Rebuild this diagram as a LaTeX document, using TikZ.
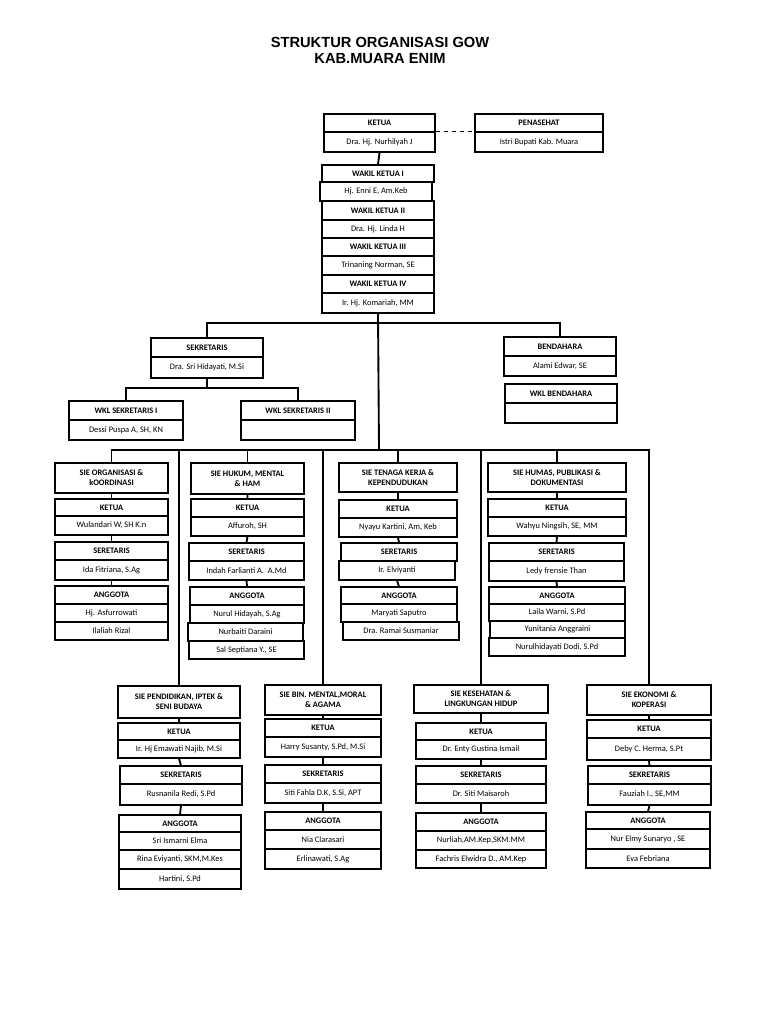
\documentclass[tikz,border=0pt]{standalone}
\usepackage{fontspec}
\setmainfont{Carlito}
\newfontfamily\titlefont{Liberation Sans}
\newcommand\cell[7]{\node[cellbox,#6,minimum width={(#4-#2)*0.75pt},minimum height={(#5-#3)*0.75pt}] (#1) at ({(#2+#4)/2},{(#3+#5)/2}) {#7};}
\tikzset{cellbox/.style={draw,line width=0.8pt,inner sep=0pt,align=center,font=\fontsize{6.3}{7.4}\selectfont},
 hd/.style={font=\fontsize{6.3}{7.4}\selectfont\bfseries},
 nm/.style={},
 conn/.style={line width=1.4pt}}
\begin{document}
\begin{tikzpicture}[x=0.75pt,y=-0.75pt]
\useasboundingbox (0,0) rectangle (768,1024);
\fill[white] (0,0) rectangle (768,1024);
\node[font=\titlefont\fontsize{11}{12}\selectfont\bfseries,align=center] (title) at (380,50) {STRUKTUR ORGANISASI GOW\\KAB.MUARA ENIM};
% top
\cell{k}{324}{114}{435}{132}{hd}{KETUA}
\cell{kn}{324}{132}{435}{152}{nm}{Dra. Hj. Nurhilyah J}
\cell{p}{475}{114}{603}{132}{hd}{PENASEHAT}
\cell{pn}{475}{132}{603}{152}{nm}{Istri Bupati Kab. Muara}
\draw[conn,dashed] (kn.north east) -- (pn.north west);
\cell{w1}{322}{165}{434}{182}{hd}{WAKIL KETUA I}
\cell{w1n}{320}{182}{432}{201}{nm}{Hj. Enni E, Am.Keb}
\cell{w2}{322}{201}{434}{220}{hd}{WAKIL KETUA II}
\cell{w2n}{322}{220}{434}{238}{nm}{Dra. Hj. Linda H}
\cell{w3}{322}{238}{434}{256}{hd}{WAKIL KETUA III}
\cell{w3n}{322}{256}{434}{275}{nm}{Trinaning Norman, SE}
\cell{w4}{322}{275}{434}{293}{hd}{WAKIL KETUA IV}
\cell{w4n}{322}{293}{434}{313}{nm}{Ir. Hj. Komariah, MM}
\draw[conn] (kn.south) -- (w1.north);
\coordinate (t1) at (379,323);
\coordinate (t2) at (379,450);
\draw[conn] (w4n.south) -- (t2);
\cell{s}{151}{338}{263}{357}{hd}{SEKRETARIS}
\cell{sn}{151}{357}{263}{378}{nm}{Dra. Sri Hidayati, M.Si}
\cell{b}{504}{337}{616}{356}{hd}{BENDAHARA}
\cell{bn}{504}{356}{616}{376}{nm}{Alami Edwar, SE}
\cell{wb}{505}{384}{617}{403}{hd}{WKL BENDAHARA}
\cell{wbn}{505}{403}{617}{423}{nm}{}
\draw[conn] (s.north) |- (t1) -| (b.north);
\coordinate (s1) at (207,388);
\cell{ws1}{69}{401}{183}{420}{hd}{WKL SEKRETARIS I}
\cell{ws1n}{69}{420}{183}{440}{nm}{Dessi Puspa A, SH, KN}
\cell{ws2}{241}{401}{355}{420}{hd}{WKL SEKRETARIS II}
\cell{ws2n}{241}{420}{355}{440}{nm}{}
\draw[conn] (sn.south) -- (s1);
\draw[conn] (ws1.north) |- (s1) -| (ws2.north);
% row 1
\cell{oh}{55}{463}{168}{493}{hd}{SIE ORGANISASI \&\\kOORDINASI}
\cell{ok}{55}{499}{168}{516}{hd}{KETUA}
\cell{okn}{55}{516}{168}{535}{nm}{Wulandari W, SH K.n}
\cell{os}{55}{542}{168}{560}{hd}{SERETARIS}
\cell{osn}{55}{560}{168}{580}{nm}{Ida Fitriana, S.Ag}
\cell{oa}{55}{586}{168}{604}{hd}{ANGGOTA}
\cell{oa1}{55}{604}{168}{622}{nm}{Hj. Asfurrowati}
\cell{oa2}{55}{622}{168}{640}{nm}{Ilaliah Rizal}
\draw[conn] (oh.south)--(ok.north) (okn.south)--(os.north) (osn.south)--(oa.north);
\cell{hh}{191}{463}{304}{494}{hd}{SIE HUKUM, MENTAL\\\& HAM}
\cell{hk}{191}{499}{304}{517}{hd}{KETUA}
\cell{hkn}{191}{517}{304}{536}{nm}{Affuroh, SH}
\cell{hs}{189}{543}{304}{561}{hd}{SERETARIS}
\cell{hsn}{189}{561}{304}{580}{nm}{Indah Farlianti A.\ \ A.Md}
\cell{ha}{190}{587}{304}{605}{hd}{ANGGOTA}
\cell{ha1}{190}{605}{304}{623}{nm}{Nurul Hidayah, S.Ag}
\cell{ha2}{188}{623}{303}{641}{nm}{Nurbaiti Daraini}
\cell{ha3}{189}{641}{304}{659}{nm}{Sal Septiana Y., SE}
\draw[conn] (hh.south)--(hk.north) (hkn.south)--(hs.north) (hsn.south)--(ha.north);
\cell{th}{339}{463}{457}{492}{hd}{SIE TENAGA KERJA \&\\KEPENDUDUKAN}
\cell{tk}{339}{500}{457}{518}{hd}{KETUA}
\cell{tkn}{339}{518}{457}{537}{nm}{Nyayu Kartini, Am, Keb}
\cell{ts}{341}{543}{457}{561}{hd}{SERETARIS}
\cell{tsn}{339}{561}{455}{580}{nm}{Ir. Elviyanti}
\cell{ta}{341}{587}{457}{604}{hd}{ANGGOTA}
\cell{ta1}{341}{604}{457}{622}{nm}{Maryati Saputro}
\cell{ta2}{343}{622}{459}{640}{nm}{Dra. Ramai Susmaniar}
\draw[conn] (th.south)--(tk.north) (tkn.south)--(ts.north) (tsn.south)--(ta.north);
\cell{uh}{488}{463}{626}{492}{hd}{SIE HUMAS, PUBLIKASI \&\\DOKUMENTASI}
\cell{uk}{488}{499}{626}{517}{hd}{KETUA}
\cell{ukn}{488}{517}{626}{536}{nm}{Wahyu Ningsih, SE, MM}
\cell{us}{489}{543}{624}{561}{hd}{SERETARIS}
\cell{usn}{489}{561}{624}{581}{nm}{Ledy frensie Than}
\cell{ua}{489}{587}{625}{604}{hd}{ANGGOTA}
\cell{ua1}{489}{604}{625}{621}{nm}{Laila Warni, S.Pd}
\cell{ua2}{490}{621}{625}{638}{nm}{Yunitania Anggraini}
\cell{ua3}{489}{638}{625}{656}{nm}{Nurulhidayati Dodi, S.Pd}
\draw[conn] (uh.south)--(uk.north) (ukn.south)--(us.north) (usn.south)--(ua.north);
% row 2
\cell{ph}{118}{686}{240}{718}{hd}{SIE PENDIDIKAN, IPTEK \&\\SENI BUDAYA}
\cell{pk}{118}{723}{240}{740}{hd}{KETUA}
\cell{pkn}{118}{740}{240}{758}{nm}{Ir. Hj Emawati Najib, M.Si}
\cell{ps}{120}{766}{242}{784}{hd}{SEKRETARIS}
\cell{psn}{120}{784}{242}{805}{nm}{Rusnanila Redi, S.Pd}
\cell{pa}{119}{815}{241}{832}{hd}{ANGGOTA}
\cell{pa1}{119}{832}{241}{850}{nm}{Sri Ismarni Elma}
\cell{pa2}{119}{850}{241}{869}{nm}{Rina Eviyanti, SKM,M.Kes}
\cell{pa3}{119}{869}{241}{889}{nm}{Hartini, S.Pd}
\draw[conn] (ph.south)--(pk.north) (pkn.south)--(ps.north) (psn.south)--(pa.north);
\cell{bh}{265}{685}{381}{715}{hd}{SIE BIN. MENTAL,MORAL\\\& AGAMA}
\cell{bk}{265}{719}{381}{737}{hd}{KETUA}
\cell{bkn}{265}{737}{381}{757}{nm}{Harry Susanty, S.Pd, M.Si}
\cell{bs}{265}{765}{381}{783}{hd}{SEKRETARIS}
\cell{bsn}{265}{783}{381}{803}{nm}{Siti Fahla D.K, S.Si, APT}
\cell{ba}{265}{812}{381}{830}{hd}{ANGGOTA}
\cell{ba1}{265}{830}{381}{849}{nm}{Nia Clarasari}
\cell{ba2}{265}{849}{381}{869}{nm}{Erlinawati, S.Ag}
\draw[conn] (bh.south)--(bk.north) (bkn.south)--(bs.north) (bsn.south)--(ba.north);
\cell{eh}{414}{685}{548}{713}{hd}{SIE KESEHATAN \&\\LINGKUNGAN HIDUP}
\cell{ek}{416}{723}{546}{740}{hd}{KETUA}
\cell{ekn}{416}{740}{546}{759}{nm}{Dr. Enty Gustina Ismail}
\cell{es}{416}{766}{546}{784}{hd}{SEKRETARIS}
\cell{esn}{416}{784}{546}{803}{nm}{Dr. Siti Maisaroh}
\cell{ea}{416}{813}{546}{831}{hd}{ANGGOTA}
\cell{ea1}{416}{831}{546}{850}{nm}{Nurliah,AM.Kep,SKM.MM}
\cell{ea2}{416}{850}{546}{868}{nm}{Fachris Elwidra D., AM.Kep}
\draw[conn] (eh.south)--(ek.north) (ekn.south)--(es.north) (esn.south)--(ea.north);
\cell{kh}{587}{685}{711}{715}{hd}{SIE EKONOMI \&\\KOPERASI}
\cell{kk}{587}{720}{711}{738}{hd}{KETUA}
\cell{kkn}{587}{738}{711}{760}{nm}{Deby C. Herma, S.Pt}
\cell{ks}{588}{766}{711}{784}{hd}{SEKRETARIS}
\cell{ksn}{588}{784}{711}{805}{nm}{Fauziah I., SE,MM}
\cell{ka}{586}{812}{710}{829}{hd}{ANGGOTA}
\cell{ka1}{586}{829}{710}{849}{nm}{Nur Elmy Sunaryo , SE}
\cell{ka2}{586}{849}{710}{868}{nm}{Eva Febriana}
\draw[conn] (kh.south)--(kk.north) (kkn.south)--(ks.north) (ksn.south)--(ka.north);
% distribution
\draw[conn] (oh.north) |- (t2) -| (kh.north);
\draw[conn] (hh.north) -- (hh.north |- t2);
\draw[conn] (th.north) -- (th.north |- t2);
\draw[conn] (uh.north) -- (uh.north |- t2);
\draw[conn] (ph.north) -- (ph.north |- t2);
\draw[conn] (bh.north) -- (bh.north |- t2);
\draw[conn] (eh.north) -- (eh.north |- t2);
\end{tikzpicture}
\end{document}
